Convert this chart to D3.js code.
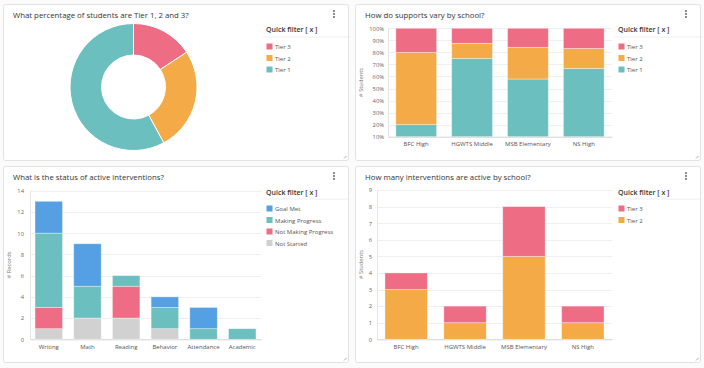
<!DOCTYPE html>
<html>
<head>
<meta charset="utf-8">
<script src="https://cdn.jsdelivr.net/npm/d3@7.9.0/dist/d3.min.js"></script>
<style>
  html, body { margin: 0; padding: 0; background: #fbfbfb; }
  svg { display: block; font-family: "Open Sans", sans-serif; }
</style>
</head>
<body>
<svg id="dash" width="704" height="368"></svg>
<script>
// ---- data ----
const tierNames = ["Tier 3", "Tier 2", "Tier 1"];
const tierCounts = [3, 5, 11];

const schools = ["BFC High", "HGWTS Middle", "MSB Elementary", "NS High"];
const pctTier1 = [20, 75, 57.9, 66.7];
const pctTier2 = [60, 12.5, 26.3, 16.6];
const pctTier3 = [20, 12.5, 15.8, 16.7];
const pctTicks = [10, 20, 30, 40, 50, 60, 70, 80, 90, 100];

const areas = ["Writing", "Math", "Reading", "Behavior", "Attendance", "Academic"];
const statusNames = ["Goal Met", "Making Progress", "Not Making Progress", "Not Started"];
const notStarted = [1, 2, 2, 1, 0, 0];
const notMaking = [2, 0, 3, 0, 0, 0];
const making = [7, 3, 1, 2, 1, 1];
const goalMet = [3, 4, 0, 1, 2, 0];

const activeTier2 = [3, 1, 5, 1];
const activeTier3 = [1, 1, 3, 1];

const colors = {
  "Tier 3": "#ee6d85", "Tier 2": "#f3aa47", "Tier 1": "#6cbfbf",
  "Goal Met": "#559fe3", "Making Progress": "#6cbfbf",
  "Not Making Progress": "#ee6d85", "Not Started": "#d1d1d1"
};

const svg = d3.select("#dash");

const panels = [
  {x: 3, y: 4, w: 345, h: 156, title: "What percentage of students are Tier 1, 2 and 3?"},
  {x: 355, y: 4, w: 345, h: 156, title: "How do supports vary by school?"},
  {x: 3, y: 166, w: 345, h: 196, title: "What is the status of active interventions?"},
  {x: 355, y: 166, w: 345, h: 196, title: "How many interventions are active by school?"}
];

// panel frames, titles, menu dots, legends
function drawPanel(p, legendItems) {
  const g = svg.append("g");
  g.append("rect")
    .attr("x", p.x + 0.5).attr("y", p.y + 0.5)
    .attr("width", p.w).attr("height", p.h)
    .attr("rx", 2)
    .attr("fill", "#fff").attr("stroke", "#e2e2e2");
  g.append("text")
    .attr("x", p.x + 10).attr("y", p.y + 13.5)
    .attr("font-size", 7.8).attr("fill", "#333")
    .text(p.title);
  [-3, 0, 3].forEach(d => {
    g.append("circle")
      .attr("cx", p.x + 331).attr("cy", p.y + 10 + d)
      .attr("r", 0.9).attr("fill", "#555");
  });
  // resize handle
  g.append("path")
    .attr("d", `M${p.x + p.w - 4},${p.y + p.h - 1.5} L${p.x + p.w - 1.5},${p.y + p.h - 4}`)
    .attr("stroke", "#888").attr("stroke-width", 0.7);

  const lg = g.append("g").attr("transform", `translate(${p.x + 263},${p.y})`);
  lg.append("text")
    .attr("x", 0).attr("y", p.y < 100 ? 28 : 28.5)
    .attr("font-size", 7).attr("font-weight", 600).attr("fill", "#333")
    .text("Quick filter [ x ]");
  lg.append("line")
    .attr("x1", -3).attr("x2", 82).attr("y1", 33).attr("y2", 33)
    .attr("stroke", "#eee");
  legendItems.forEach((name, i) => {
    const yy = 42 + i * 11.5;
    lg.append("rect")
      .attr("x", 0.5).attr("y", yy - 2.5).attr("width", 6).attr("height", 6)
      .attr("fill", colors[name]);
    lg.append("text")
      .attr("x", 9).attr("y", yy + 3)
      .attr("font-size", 6).attr("fill", "#555")
      .text(name);
  });
}

drawPanel(panels[0], tierNames);
drawPanel(panels[1], tierNames);
drawPanel(panels[2], statusNames);
drawPanel(panels[3], ["Tier 3", "Tier 2"]);

// ---- panel 1: donut ----
const pie = d3.pie().sort(null).value(d => d)(tierCounts);
const arc = d3.arc().innerRadius(32).outerRadius(63.5);
svg.append("g")
  .attr("transform", "translate(133.5,87)")
  .selectAll("path")
  .data(pie)
  .join("path")
  .attr("d", arc)
  .attr("fill", (d, i) => colors[tierNames[i]])
  .attr("stroke", "#fff").attr("stroke-width", 1);

// shared bar-chart helper
function barChart(opt) {
  const g = svg.append("g");
  const x = d3.scaleBand().domain(opt.cats).range(opt.xr)
    .paddingInner(opt.pi).paddingOuter(opt.po);
  const y = d3.scaleLinear().domain(opt.yd).range(opt.yr).clamp(true);

  // grid
  g.append("g").selectAll("line").data(opt.ticks).join("line")
    .attr("x1", opt.xr[0]).attr("x2", opt.xr[1])
    .attr("y1", d => Math.round(y(d)) + 0.5).attr("y2", d => Math.round(y(d)) + 0.5)
    .attr("stroke", "#efefef");
  g.append("line")
    .attr("x1", opt.xr[0] + 0.5).attr("x2", opt.xr[0] + 0.5)
    .attr("y1", opt.yr[1]).attr("y2", opt.yr[0])
    .attr("stroke", "#e6e6e6");

  // y axis
  const ya = g.append("g")
    .attr("transform", `translate(${opt.xr[0]},0)`)
    .call(d3.axisLeft(y).tickValues(opt.ticks).tickSize(0).tickPadding(opt.tickPad)
      .tickFormat(opt.fmt));
  ya.select(".domain").remove();
  ya.selectAll("text").attr("font-size", 5.8).attr("fill", "#666")
    .attr("font-family", "Open Sans, sans-serif");

  // x axis
  const xa = g.append("g")
    .attr("transform", `translate(0,${opt.yr[0]})`)
    .call(d3.axisBottom(x).tickSize(0).tickPadding(5));
  xa.select(".domain").attr("stroke", "#d8d8d8");
  xa.selectAll("text").attr("font-size", 6).attr("fill", "#555")
    .attr("font-family", "Open Sans, sans-serif");

  // y title
  g.append("text")
    .attr("transform", `translate(${opt.titleX},${(opt.yr[0] + opt.yr[1]) / 2}) rotate(-90)`)
    .attr("text-anchor", "middle").attr("font-size", 5.8).attr("fill", "#777")
    .text(opt.yTitle);

  // stacks
  const rows = opt.cats.map((c, i) => {
    const r = {cat: c};
    opt.keys.forEach((k, j) => r[k] = opt.series[j][i]);
    return r;
  });
  const stack = d3.stack().keys(opt.keys)(rows);
  g.append("g").selectAll("g").data(stack).join("g")
    .attr("fill", d => colors[d.key])
    .selectAll("rect").data(d => d.filter(s => s[1] > s[0])).join("rect")
    .attr("x", d => x(d.data.cat))
    .attr("width", x.bandwidth())
    .attr("y", d => y(d[1]))
    .attr("height", d => y(d[0]) - y(d[1]))
    .attr("stroke", "rgba(255,255,255,0.45)").attr("stroke-width", 0.8);
}

// ---- panel 2: 100% stacked ----
barChart({
  cats: schools, xr: [388, 612], pi: 0.27, po: 0.14,
  yd: [10, 100], yr: [136.7, 28.3], ticks: pctTicks, fmt: d => d + "%",
  tickPad: 4, titleX: 363, yTitle: "# Students",
  keys: ["Tier 1", "Tier 2", "Tier 3"], series: [pctTier1, pctTier2, pctTier3]
});

// ---- panel 3: interventions status ----
barChart({
  cats: areas, xr: [30, 261], pi: 0.29, po: 0.13,
  yd: [0, 14], yr: [339.3, 190.7], ticks: d3.range(0, 15, 2), fmt: d3.format("d"),
  tickPad: 6, titleX: 11, yTitle: "# Records",
  keys: ["Not Started", "Not Making Progress", "Making Progress", "Goal Met"],
  series: [notStarted, notMaking, making, goalMet]
});

// ---- panel 4: active by school ----
barChart({
  cats: schools, xr: [377, 612], pi: 0.28, po: 0.135,
  yd: [0, 9], yr: [339.3, 190], ticks: d3.range(0, 10), fmt: d3.format("d"),
  tickPad: 5, titleX: 363, yTitle: "# Students",
  keys: ["Tier 2", "Tier 3"], series: [activeTier2, activeTier3]
});
</script>
</body>
</html>
